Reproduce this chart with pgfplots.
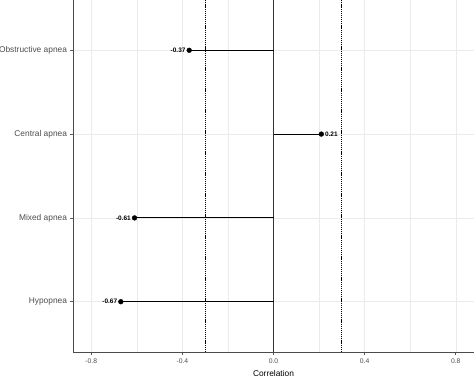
\documentclass[border=0pt]{standalone}
\usepackage{pgfplots}
\pgfplotsset{compat=1.18}
\usepackage{fontspec}
\setmainfont{Liberation Sans}
\begin{document}
\begin{tikzpicture}
\path[use as bounding box] (0,0) rectangle (474bp,376bp);
\clip (0,0) rectangle (474bp,376bp);
\begin{axis}[
  at={(73bp,24bp)}, anchor=south west,
  scale only axis, width=401bp, height=352bp,
  xmin=-0.88, xmax=0.88, ymin=0.4, ymax=4.6,
  axis x line=bottom, axis y line=left,
  axis line style={-, draw=black!70, line width=0.9bp},
  xtick={-0.8,-0.4,0,0.4,0.8},
  xticklabels={-0.8,-0.4,0.0,0.4,0.8},
  minor xtick={-0.6,-0.2,0.2,0.6},
  ytick={1,2,3,4},
  yticklabels={Hypopnea,Mixed apnea,Central apnea,Obstructive apnea},
  xmajorgrids, xminorgrids, ymajorgrids,
  major grid style={draw=black!8, line width=0.5bp},
  minor grid style={draw=black!8, line width=0.5bp},
  tick align=outside, major tick length=3bp, minor tick length=0pt,
  tick style={draw=black!65, line width=0.6bp},
  /pgf/number format/assume math mode=true,
  xticklabel style={font=\fontsize{6.8}{7}\selectfont, text=black!70, yshift=-0.5bp},
  yticklabel style={font=\fontsize{8.4}{9}\selectfont, text=black!70, xshift=0.5bp},
  xlabel={Correlation},
  xlabel style={font=\fontsize{8.4}{9}\selectfont, text=black, yshift=0.5bp},
]
\addplot[black, line width=1bp, dash pattern=on 1.2bp off 0.9bp] coordinates {(-0.3,0.4) (-0.3,4.6)};
\addplot[black, line width=1bp, dash pattern=on 1.2bp off 0.9bp] coordinates {(0.3,0.4) (0.3,4.6)};
\addplot[black!80, line width=1.1bp] coordinates {(0,0.4) (0,4.6)};
\addplot[black, line width=1.1bp] coordinates {(0,4) (-0.37,4)};
\addplot[black, line width=1.1bp] coordinates {(0,3) (0.21,3)};
\addplot[black, line width=1.1bp] coordinates {(0,2) (-0.61,2)};
\addplot[black, line width=1.1bp] coordinates {(0,1) (-0.67,1)};
\addplot[only marks, mark=*, mark size=2.4bp, black,
  point meta=explicit symbolic, nodes near coords,
  nodes near coords style={font=\bfseries\fontsize{6.5}{7}\selectfont, anchor=east, xshift=-2.5bp, yshift=0pt, inner sep=1bp}]
  coordinates {(-0.37,4) [-0.37] (-0.61,2) [-0.61] (-0.67,1) [-0.67]};
\addplot[only marks, mark=*, mark size=2.4bp, black,
  point meta=explicit symbolic, nodes near coords,
  nodes near coords style={font=\bfseries\fontsize{6.5}{7}\selectfont, anchor=west, xshift=2.5bp, inner sep=1bp}]
  coordinates {(0.21,3) [0.21]};
\end{axis}
\end{tikzpicture}
\end{document}
